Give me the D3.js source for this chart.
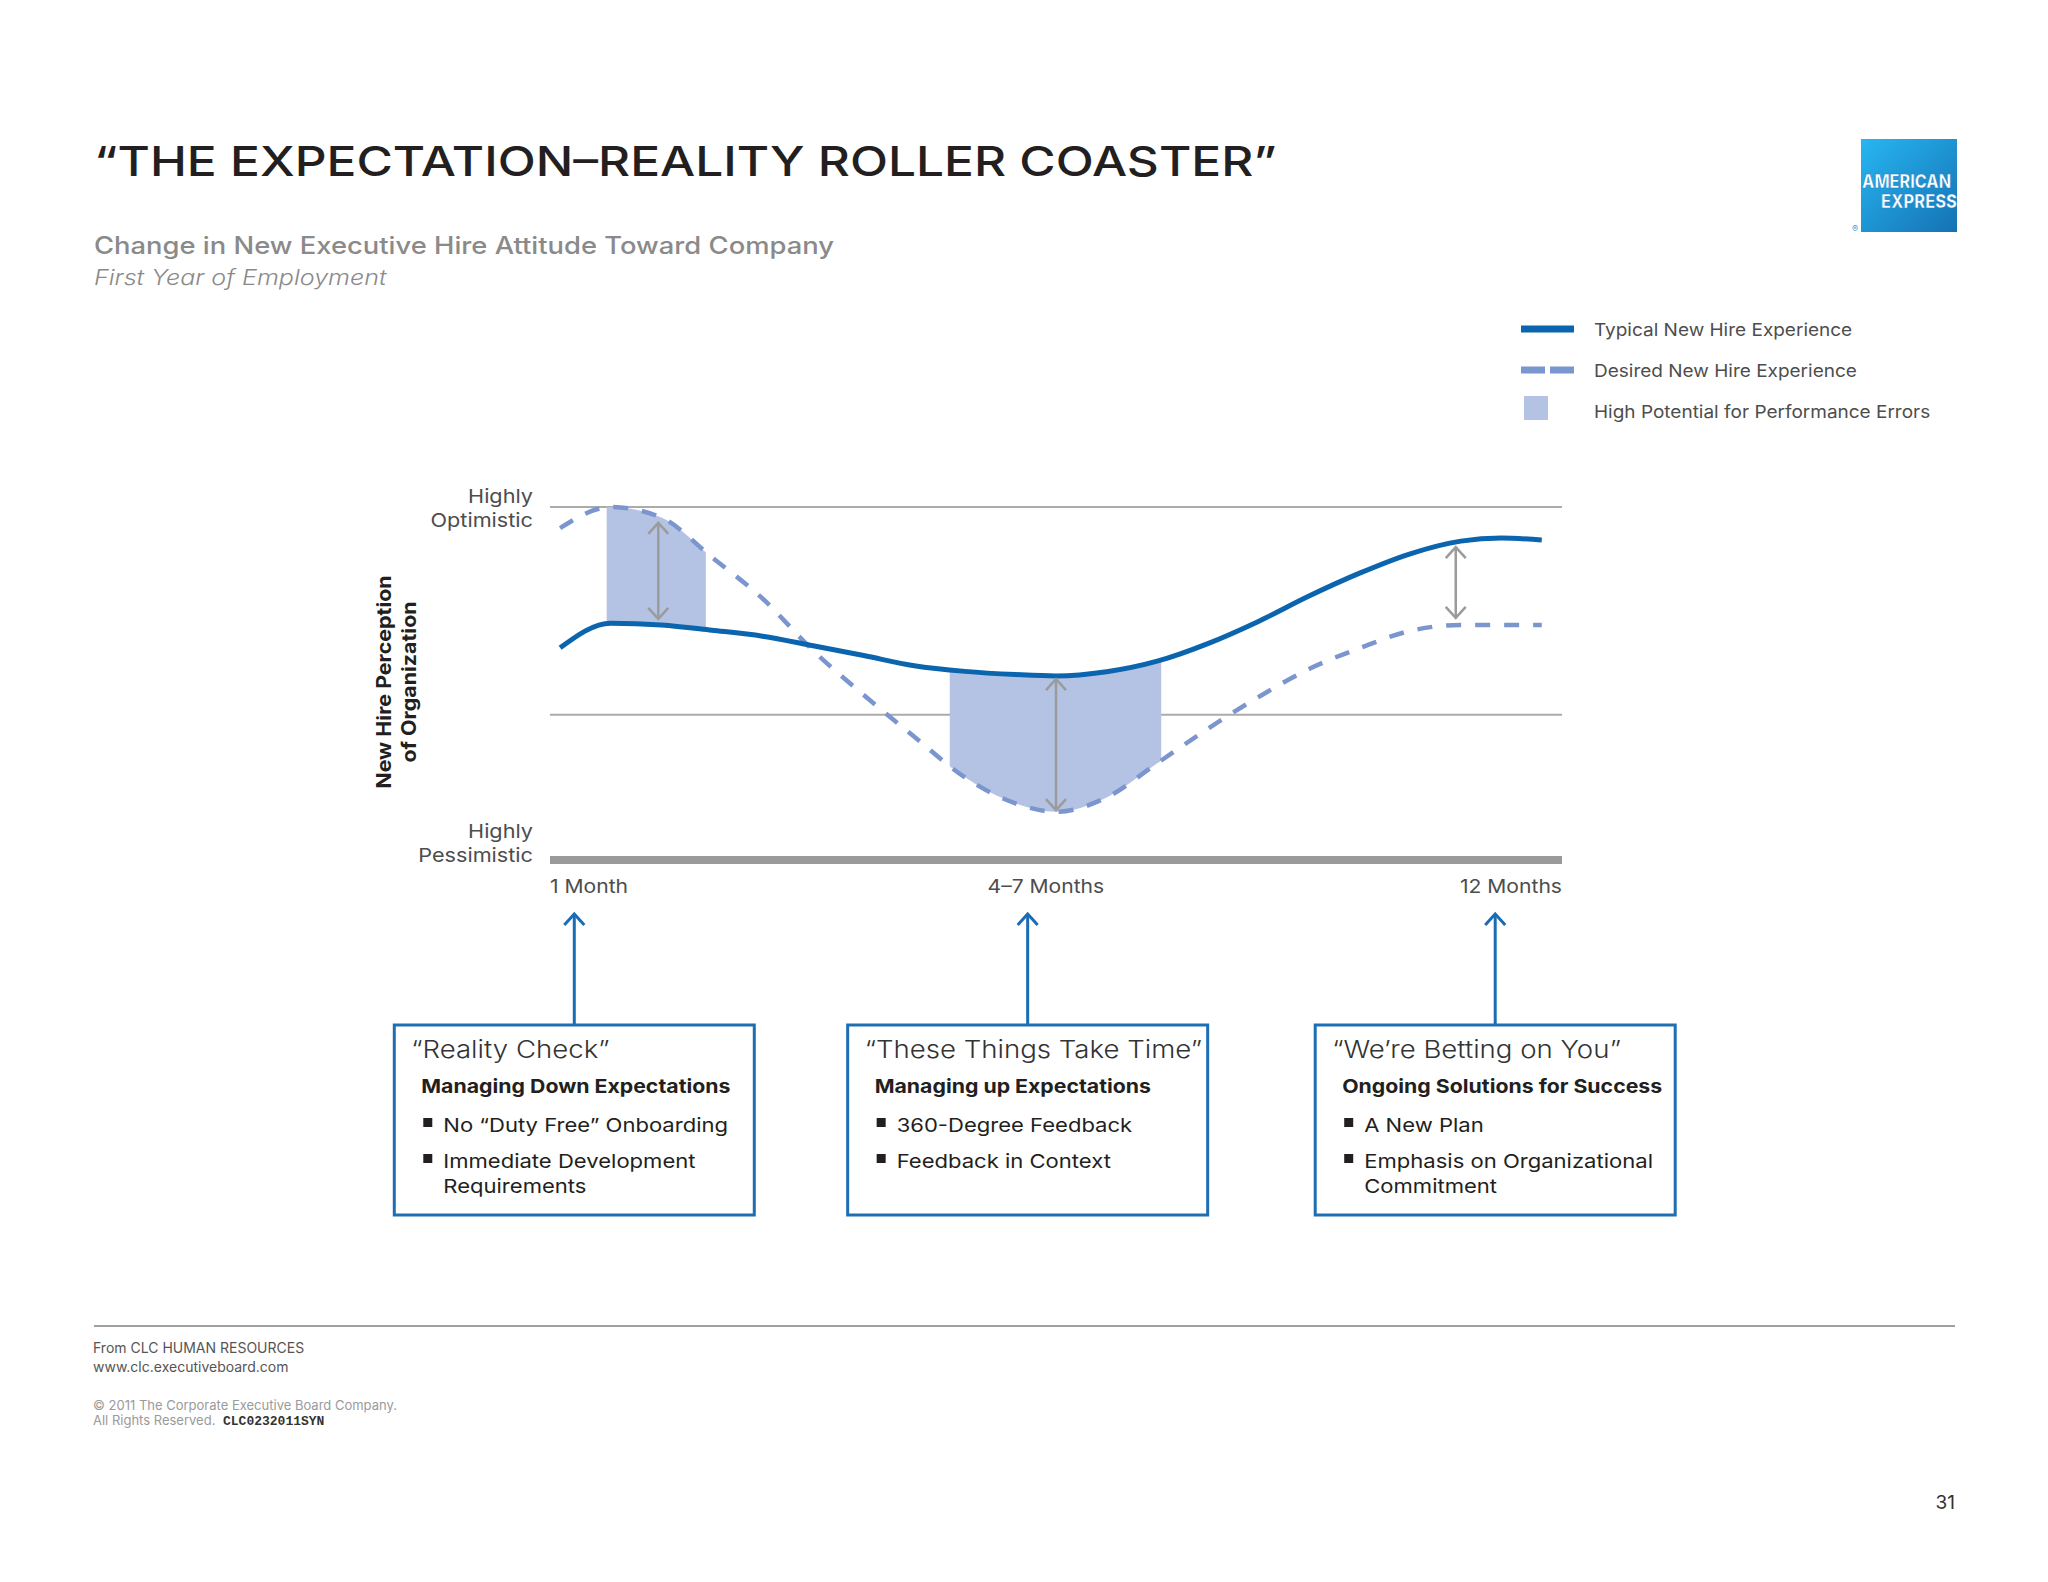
<!DOCTYPE html>
<html>
<head>
<meta charset="utf-8">
<script src="https://cdn.jsdelivr.net/npm/d3@7"></script>
<style>
  body { margin: 0; background: #fff; }
  svg text { font-family: Inter, "Noto Sans", sans-serif; }
</style>
</head>
<body>
<svg id="chart" width="2048" height="1582"></svg>
<script>
// ---- data (x = share of first year, 0..100; y = attitude, 0 pessimistic .. 100 optimistic)
const progress = [1, 6, 11, 16, 21, 26, 31, 36, 41, 46, 50, 55, 60, 65, 70, 75, 80, 85, 90, 94, 98];
const typical  = [60, 67, 66.5, 65, 63.3, 60.6, 57.8, 54.9, 53.3, 52.4, 52, 53.2, 56.2, 61.2, 67.5, 74.7, 81.2, 86.7, 90.3, 91.2, 90.6];
const desired  = [94, 100, 97, 85.7, 74, 59.2, 46.6, 34.7, 23.2, 15.8, 13.4, 17.5, 27.2, 37, 46, 54, 59.9, 64.8, 66.5, 66.5, 66.5];

const errorWindows = [[5.6, 15.4], [39.5, 60.4]];
// [x, from, to] for the grey gap arrows
const gapArrows = [[10.7, 95.5, 68.2], [50, 51.1, 13.9], [89.5, 88.6, 68.5]];

const gridValues = [100, 41];
const levelValues = [100, 0];
const levelLabels = [["Highly", "Optimistic"], ["Highly", "Pessimistic"]];
const axisTitle = ["New Hire Perception", "of Organization"];

const timeValues = [0, 49, 100];
const timeLabels = ["1 Month", "4–7 Months", "12 Months"];

const legendLabels = ["Typical New Hire Experience", "Desired New Hire Experience", "High Potential for Performance Errors"];

const calloutAt = [2.4, 47.2, 93.4];
const calloutTitles = ["“Reality Check”", "“These Things Take Time”", "“We’re Betting on You”"];
const calloutHeadings = ["Managing Down Expectations", "Managing up Expectations", "Ongoing Solutions for Success"];
const calloutBullets = [
  [["No “Duty Free” Onboarding"], ["Immediate Development", "Requirements"]],
  [["360-Degree Feedback"], ["Feedback in Context"]],
  [["A New Plan"], ["Emphasis on Organizational", "Commitment"]]
];

// ---- colours
const solidBlue = "#0b64ae";
const dashBlue = "#7b96cf";
const errorFill = "#b4c3e4";
const boxBlue = "#1e6eb4";
const textDark = "#231f20";
const textMid = "#4d4d4d";

const svg = d3.select("#chart");
const x = d3.scaleLinear().domain([0, 100]).range([550, 1562]);
const y = d3.scaleLinear().domain([0, 100]).range([859, 507]);

// the slide font is much wider than Inter, so widen the glyphs a bit
function stretch(sel, k) {
  sel.each(function() {
    const w = this.getComputedTextLength();
    d3.select(this).attr("textLength", w * k).attr("lengthAdjust", "spacingAndGlyphs");
  });
}

// ---- header
stretch(svg.append("text").attr("x", 94).attr("y", 176)
  .attr("font-size", 41).attr("font-weight", 500).attr("fill", textDark)
  .text("“THE EXPECTATION–REALITY ROLLER COASTER”"), 1.21);
stretch(svg.append("text").attr("x", 94).attr("y", 254)
  .attr("font-size", 24).attr("font-weight", 500).attr("fill", "#8a8a8a")
  .text("Change in New Executive Hire Attitude Toward Company"), 1.14);
stretch(svg.append("text").attr("x", 94).attr("y", 285)
  .attr("font-size", 22).attr("font-style", "italic").attr("font-weight", 300).attr("fill", "#8a8a8a")
  .text("First Year of Employment"), 1.14);

// logo
const defs = svg.append("defs");
const grad = defs.append("linearGradient").attr("id", "amex")
  .attr("x1", "0%").attr("y1", "0%").attr("x2", "100%").attr("y2", "100%");
grad.append("stop").attr("offset", "0%").attr("stop-color", "#27b6f2");
grad.append("stop").attr("offset", "100%").attr("stop-color", "#1572b3");
const logo = svg.append("g");
logo.append("rect").attr("x", 1861).attr("y", 139).attr("width", 96).attr("height", 93).attr("fill", "url(#amex)");
logo.append("text").attr("x", 1862).attr("y", 188).attr("textLength", 89).attr("lengthAdjust", "spacingAndGlyphs")
  .attr("font-size", 19).attr("font-weight", 800).attr("fill", "#fff").attr("stroke", "#1a86c8").attr("stroke-width", 0.6)
  .text("AMERICAN");
logo.append("text").attr("x", 1881).attr("y", 208).attr("textLength", 76).attr("lengthAdjust", "spacingAndGlyphs")
  .attr("font-size", 19).attr("font-weight", 800).attr("fill", "#fff").attr("stroke", "#1a86c8").attr("stroke-width", 0.6)
  .text("EXPRESS");
logo.append("text").attr("x", 1852).attr("y", 232).attr("font-size", 9).attr("fill", "#2aa6e0").text("®");

// ---- legend
const legend = svg.append("g");
legend.append("line").attr("x1", 1521).attr("x2", 1574).attr("y1", 329).attr("y2", 329)
  .attr("stroke", solidBlue).attr("stroke-width", 7);
legend.append("line").attr("x1", 1521).attr("x2", 1574).attr("y1", 370).attr("y2", 370)
  .attr("stroke", dashBlue).attr("stroke-width", 7).attr("stroke-dasharray", "24 5");
legend.append("rect").attr("x", 1524).attr("y", 396).attr("width", 24).attr("height", 24).attr("fill", errorFill);
stretch(legend.selectAll("text.leg").data(legendLabels).join("text").attr("class", "leg")
  .attr("x", 1594).attr("y", (d, i) => 336 + i * 41)
  .attr("font-size", 17.5).attr("fill", textMid).text(d => d), 1.085);

// ---- chart frame
svg.append("g").selectAll("line").data(gridValues).join("line")
  .attr("x1", x(0)).attr("x2", x(100)).attr("y1", d => y(d)).attr("y2", d => y(d))
  .attr("stroke", "#ababab").attr("stroke-width", 2);

// level labels
levelValues.forEach((v, i) => {
  const base = i === 0 ? y(v) - 4 : y(v) - 21;
  const t = svg.append("text").attr("text-anchor", "end").attr("font-size", 19).attr("fill", textMid);
  levelLabels[i].forEach((line, k) => {
    stretch(t.append("tspan").attr("x", 533).attr("y", base + k * 24).text(line), 1.14);
  });
});

// axis title
const at = svg.append("text").attr("transform", "translate(391,682) rotate(-90)")
  .attr("text-anchor", "middle").attr("font-size", 20).attr("font-weight", 700).attr("fill", textDark);
axisTitle.forEach((line, k) => stretch(at.append("tspan").attr("x", 0).attr("y", k * 25).text(line), 1.07));

// error windows
const clip = defs.append("clipPath").attr("id", "windows");
clip.selectAll("rect").data(errorWindows).join("rect")
  .attr("x", d => x(d[0])).attr("width", d => x(d[1]) - x(d[0]))
  .attr("y", 0).attr("height", 1582);

const area = d3.area()
  .x((d, i) => x(progress[i]))
  .y0((d, i) => y(typical[i]))
  .y1((d, i) => y(desired[i]))
  .curve(d3.curveMonotoneX);
svg.append("path").datum(progress).attr("d", area)
  .attr("fill", errorFill).attr("clip-path", "url(#windows)");

// timeline axis
svg.append("line").attr("x1", x(0)).attr("x2", x(100)).attr("y1", y(0) + 1).attr("y2", y(0) + 1)
  .attr("stroke", "#9a9a9a").attr("stroke-width", 8);
stretch(svg.selectAll("text.time").data(timeLabels).join("text").attr("class", "time")
  .attr("x", (d, i) => x(timeValues[i])).attr("y", 893)
  .attr("text-anchor", (d, i) => ["start", "middle", "end"][i])
  .attr("font-size", 19).attr("fill", textMid).text(d => d), 1.11);

// curves
const line = vals => d3.line().x((d, i) => x(progress[i])).y(d => y(d)).curve(d3.curveMonotoneX)(vals);
svg.append("path").attr("d", line(desired)).attr("fill", "none")
  .attr("stroke", dashBlue).attr("stroke-width", 4.5).attr("stroke-dasharray", "15 14");
svg.append("path").attr("d", line(typical)).attr("fill", "none")
  .attr("stroke", solidBlue).attr("stroke-width", 5);

// arrow heads
function chevron(id, color, w) {
  defs.append("marker").attr("id", id).attr("viewBox", "-14 -14 28 28")
    .attr("markerWidth", 28).attr("markerHeight", 28).attr("markerUnits", "userSpaceOnUse")
    .attr("refX", 0).attr("refY", 0).attr("orient", "auto-start-reverse")
    .append("path").attr("d", "M-11,-10L0,0L-11,10").attr("fill", "none")
    .attr("stroke", color).attr("stroke-width", w);
}
chevron("greyHead", "#9b9b9b", 2.5);
chevron("blueHead", "#1a6db5", 3);

svg.append("g").selectAll("line").data(gapArrows).join("line")
  .attr("x1", d => x(d[0])).attr("x2", d => x(d[0]))
  .attr("y1", d => y(d[1])).attr("y2", d => y(d[2]))
  .attr("stroke", "#9b9b9b").attr("stroke-width", 2.5)
  .attr("marker-start", "url(#greyHead)").attr("marker-end", "url(#greyHead)");

// ---- callouts
const boxW = 360, boxH = 190, boxTop = 1025;
calloutAt.forEach((p, i) => {
  const cx = x(p), left = cx - boxW / 2;
  svg.append("line").attr("x1", cx).attr("x2", cx).attr("y1", boxTop).attr("y2", 914)
    .attr("stroke", "#1a6db5").attr("stroke-width", 3).attr("marker-end", "url(#blueHead)");
  svg.append("rect").attr("x", left).attr("y", boxTop).attr("width", boxW).attr("height", boxH)
    .attr("fill", "none").attr("stroke", boxBlue).attr("stroke-width", 3);
  stretch(svg.append("text").attr("x", left + 17).attr("y", boxTop + 33)
    .attr("font-size", 24).attr("font-weight", 300).attr("fill", "#333").text(calloutTitles[i]), 1.15);
  stretch(svg.append("text").attr("x", left + 27).attr("y", boxTop + 68)
    .attr("font-size", 19).attr("font-weight", 700).attr("fill", textDark).text(calloutHeadings[i]), 1.12);
  let base = boxTop + 107;
  calloutBullets[i].forEach(lines => {
    svg.append("rect").attr("x", left + 29).attr("y", base - 14).attr("width", 9).attr("height", 9).attr("fill", textDark);
    const t = svg.append("text").attr("font-size", 19).attr("fill", textDark);
    lines.forEach((ln, k) => stretch(t.append("tspan").attr("x", left + 49).attr("y", base + k * 25).text(ln), 1.16));
    base += 25 * (lines.length - 1) + 36;
  });
});

// ---- footer
svg.append("line").attr("x1", 94).attr("x2", 1955).attr("y1", 1326).attr("y2", 1326)
  .attr("stroke", "#a0a0a0").attr("stroke-width", 2);
svg.append("text").attr("x", 93).attr("y", 1353).attr("font-size", 14).attr("fill", "#555").text("From CLC HUMAN RESOURCES");
svg.append("text").attr("x", 93).attr("y", 1372).attr("font-size", 14).attr("fill", "#555").text("www.clc.executiveboard.com");
svg.append("text").attr("x", 93).attr("y", 1410).attr("font-size", 13).attr("fill", "#9a9a9a").text("© 2011 The Corporate Executive Board Company.");
const rights = svg.append("text").attr("x", 93).attr("y", 1425).attr("font-size", 13).attr("fill", "#9a9a9a");
rights.append("tspan").text("All Rights Reserved.");
rights.append("tspan").attr("x", 223).attr("font-family", "'Liberation Mono', monospace").attr("font-weight", 700)
  .attr("fill", "#333").text("CLC0232011SYN");

svg.append("text").attr("x", 1955).attr("y", 1509).attr("text-anchor", "end")
  .attr("font-size", 19).attr("fill", "#333").text("31");
</script>
</body>
</html>
